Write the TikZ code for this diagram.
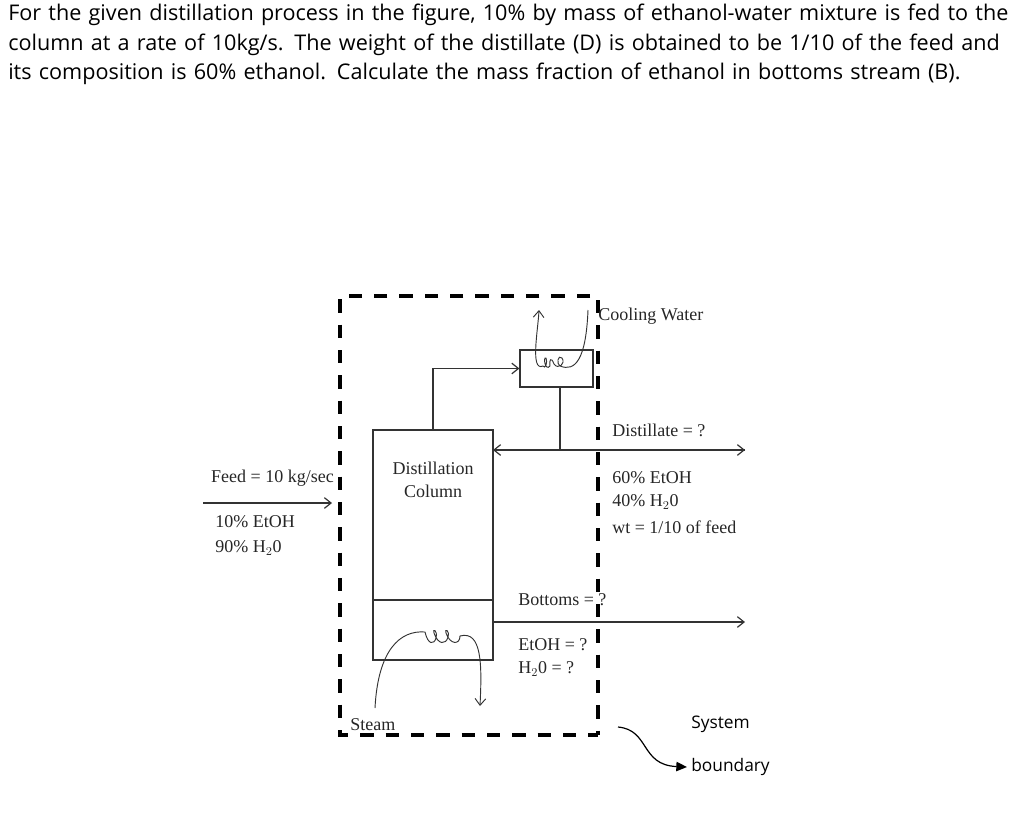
\documentclass[tikz,border=0pt]{standalone}
\usepackage{fontspec}
\setmainfont{Liberation Serif}
\newfontfamily\qfont{Open Sans}
\usetikzlibrary{arrows.meta}
\begin{document}
\begin{tikzpicture}[x=0.75pt,y=-0.75pt,
  ln/.style={line width=0.9pt,draw=black!80},
  arr/.style={ln,-{Straight Barb[length=5pt,width=8pt]}},
  bnd/.style={line width=3pt,dash pattern=on 10pt off 9pt},
  lab/.style={anchor=west,inner sep=0pt,font=\fontsize{13.5}{15}\selectfont,text=black!85},
  sl/.style={anchor=west,inner sep=0pt,font=\qfont\fontsize{13}{15}\selectfont}]
\useasboundingbox (0,0) rectangle (1024,835);
\node[anchor=north west,inner sep=0pt,text width=762pt,align=left,font=\qfont\fontsize{16.2}{22}\selectfont] (q) at (8,4)
{For the given distillation process in the figure, 10\% by mass of ethanol-water mixture is fed to the column at a rate of 10kg/s. The weight of the distillate (D) is obtained to be 1/10 of the feed and its composition is 60\% ethanol. Calculate the mass fraction of ethanol in bottoms stream (B).};
% boundary
\draw[bnd] (590,296) -- (340,296) -- (340,735) -- (598,735);
\draw[bnd] (598,300) -- (598,735);
% column
\node[ln,draw,minimum width=90pt,minimum height=172.5pt,inner sep=0pt] (col) at (433,545) {};
\draw[ln] (373,600) -- (493,600);
\node[font=\fontsize{13.5}{17}\selectfont,align=center,text=black!85] (colt) at (433,480) {Distillation\\Column};
% condenser
\node[ln,draw,minimum width=54.75pt,minimum height=27.75pt,inner sep=0pt] (cond) at (556.5,368.5) {};
\coordinate (vt) at (433,430);
\draw[arr] (vt) |- (cond.west);
\coordinate (dj) at (560,450);
\draw[ln] (560,387) -- (dj);
\coordinate (de) at (745,450);
\draw[arr] (de) -- (493,450);
\draw[arr] (dj) -- (de);
\coordinate (be) at (745,622);
\draw[arr] (493,622) -- (be);
% feed
\coordinate (fs) at (203,503); \coordinate (fe) at (332,503);
\draw[arr] (fs) -- (fe);
% cooling water coil
\draw[arr,line width=0.7pt] (588,310) .. controls (586,360) and (575,372) .. (560,366)
  .. controls (556,364) and (558,354) .. (562,358) .. controls (566,364) and (558,370) .. (554,364)
  .. controls (551,356) and (549,360) .. (550,366) .. controls (545,372) and (543,356) .. (546,358)
  .. controls (548,362) and (545,370) .. (543,366) .. controls (530,372) and (538,330) .. (539,310);
% steam coil
\draw[arr,line width=0.7pt] (375,708) .. controls (378,650) and (400,630) .. (425,632)
  .. controls (428,645) and (434,645) .. (436,638) .. controls (438,630) and (432,628) .. (434,633)
  .. controls (438,645) and (446,645) .. (448,637) .. controls (450,630) and (444,628) .. (446,633)
  .. controls (450,645) and (460,645) .. (460,636) .. controls (482,630) and (482,665) .. (480,706);
% labels
\node[lab] (cw) at (598,316) {Cooling Water};
\node[lab] (dl) at (612,430) {Distillate = ?};
\node[lab] (d1) at (612,478) {60\% EtOH};
\node[lab] (d2) at (612,502) {40\% H$_2$0};
\node[lab] (d3) at (612,527) {wt = 1/10 of feed};
\node[lab] (bl) at (518,600) {Bottoms = ?};
\node[lab] (b1) at (518,645) {EtOH = ?};
\node[lab] (b2) at (518,669) {H$_2$0 = ?};
\node[lab] (st) at (350,725) {Steam};
\node[lab,anchor=east] (fl) at (334,478) {Feed = 10 kg/sec};
\node[lab] (f1) at (215,522) {10\% EtOH};
\node[lab] (f2) at (215,548) {90\% H$_2$0};
\node[sl] (sy) at (691,724) {System};
\node[sl] (bo) at (691,767) {boundary};
\draw[line width=0.9pt,-{Triangle[length=8pt,width=7pt]}] (618,727) .. controls (650,730) and (640,765) .. ([xshift=-3pt]bo.west);
\end{tikzpicture}
\end{document}
